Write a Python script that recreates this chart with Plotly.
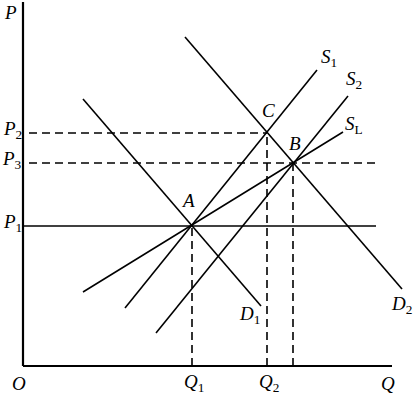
import plotly.graph_objects as go

# price / quantity levels (chart units, origin at O)
p_levels = {'P1': 140, 'P2': 233, 'P3': 203}
q_levels = {'Q1': 169, 'Q2': 244, 'QB': 270}

# curve endpoints
d1_q = [60, 238]
d1_p = [267, 60]
d2_q = [162, 379]
d2_p = [329, 77]
s1_q = [102, 294]
s1_p = [58, 296]
s2_q = [133, 325]
s2_p = [33, 270]
sl_q = [60, 320]
sl_p = [74, 234]

# equilibrium points
pt_A = (169, 140)
pt_B = (270, 203)
pt_C = (244, 233)

q_max = 369
p_max = 364

FONT = 'Liberation Serif'
BLACK = '#000000'

fig = go.Figure()


def seg(x, y, width=1.6, dash='solid'):
    fig.add_trace(go.Scatter(x=x, y=y, mode='lines',
                             line=dict(color=BLACK, width=width, dash=dash),
                             hoverinfo='skip', showlegend=False))


# axes
seg([0, 0], [0, p_max], width=2.2)
seg([0, q_max], [0, 0], width=2.2)

# horizontal lines
seg([0, 353], [p_levels['P1']] * 2)
seg([6, pt_C[0]], [p_levels['P2']] * 2, dash='8px,5px')
seg([6, 354], [p_levels['P3']] * 2, dash='8px,5px')

# vertical dashed lines
seg([q_levels['Q1']] * 2, [0, pt_A[1]], dash='8px,5px')
seg([q_levels['Q2']] * 2, [0, pt_C[1]], dash='8px,5px')
seg([q_levels['QB']] * 2, [0, pt_B[1]], dash='8px,5px')

# demand and supply curves
seg(d1_q, d1_p)
seg(d2_q, d2_p)
seg(s1_q, s1_p)
seg(s2_q, s2_p)
seg(sl_q, sl_p)

labels = [
    ('<i>P</i>', -13, 354),
    ('<i>P</i><sub>2</sub>', -11, 236),
    ('<i>P</i><sub>3</sub>', -11, 206),
    ('<i>P</i><sub>1</sub>', -11, 143),
    ('<i>O</i>', -4, -17),
    ('<i>Q</i><sub>1</sub>', 171, -17),
    ('<i>Q</i><sub>2</sub>', 246, -17),
    ('<i>Q</i>', 365, -17),
    ('<i>A</i>', 165, 166),
    ('<i>C</i>', 245, 256),
    ('<i>B</i>', 272, 223),
    ('<i>S</i><sub>1</sub>', 306, 308),
    ('<i>S</i><sub>2</sub>', 331, 286),
    ('<i>S</i><sub>L</sub>', 331, 241),
    ('<i>D</i><sub>1</sub>', 226, 51),
    ('<i>D</i><sub>2</sub>', 378, 61),
]
for txt, x, y in labels:
    fig.add_annotation(x=x, y=y, text=txt, showarrow=False,
                       font=dict(family=FONT, size=19, color=BLACK),
                       xanchor='center', yanchor='middle')

fig.update_layout(
    width=420, height=402,
    margin=dict(l=0, r=0, t=0, b=0),
    paper_bgcolor='white', plot_bgcolor='white',
    xaxis=dict(range=[-23, 397], visible=False, fixedrange=True),
    yaxis=dict(range=[-36, 366], visible=False, fixedrange=True),
    showlegend=False,
)

# drop the default 8px body margin so the figure fills the window
fig.write_html("out.html", config={'displayModeBar': False},
               post_script="document.body.style.margin='0';")
